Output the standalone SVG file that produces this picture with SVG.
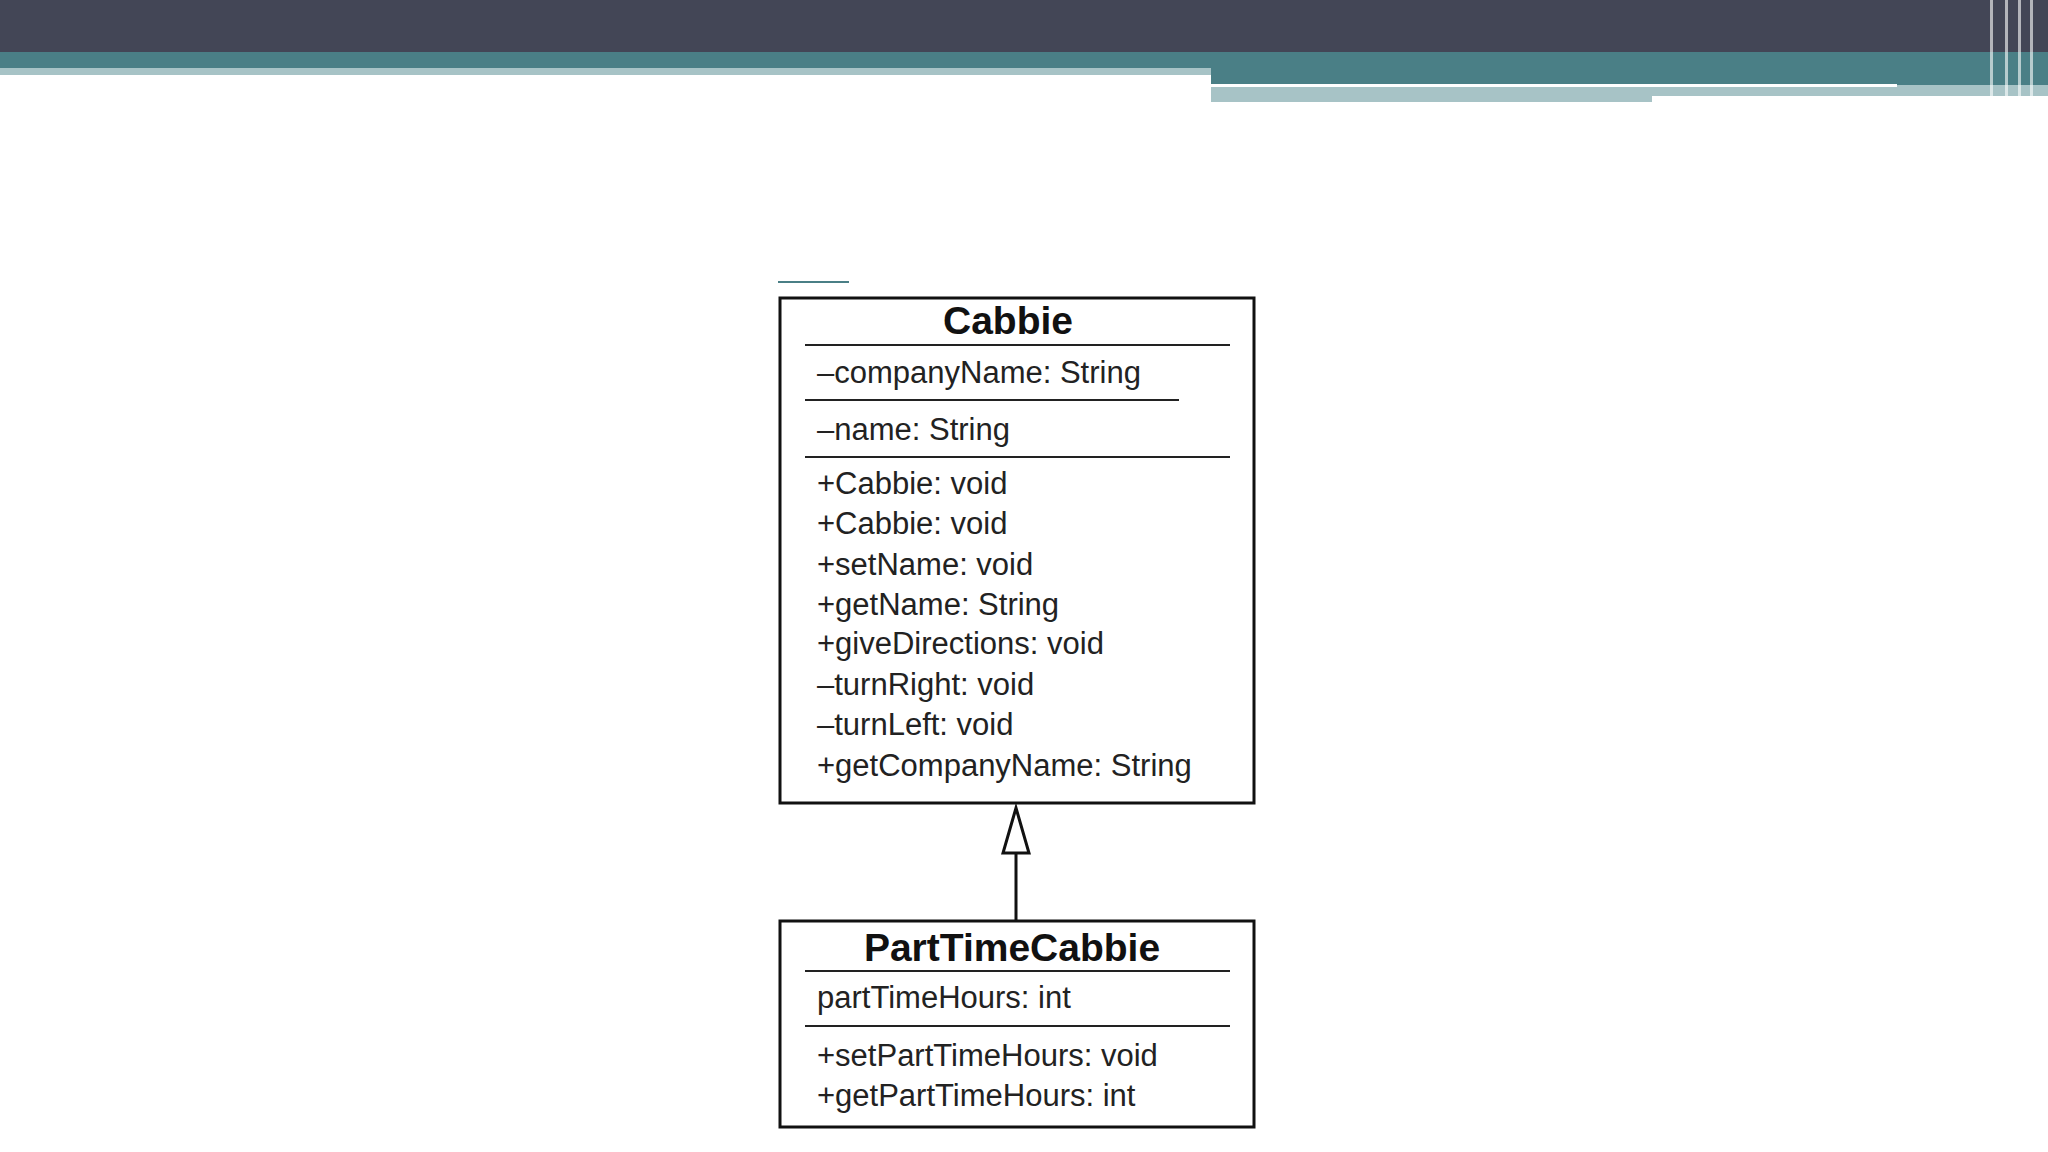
<svg xmlns="http://www.w3.org/2000/svg" width="2048" height="1152" viewBox="0 0 2048 1152">
<style>
.box{fill:#fff;stroke:#111;stroke-width:3}
.sep{stroke:#222;stroke-width:2}
.t{font-family:"Liberation Sans",Arial,sans-serif;font-size:31px;fill:#222}
.h{font-family:"Liberation Sans",Arial,sans-serif;font-size:39px;font-weight:bold;fill:#111;text-anchor:middle}
</style>
<rect width="2048" height="1152" fill="#fff"/>
<g id="banner">
<rect x="0" y="0" width="2048" height="52" fill="#434656"/>
<rect x="0" y="52" width="2048" height="16" fill="#4a7f86"/>
<rect x="0" y="68" width="1211" height="7" fill="#a7c3c6"/>
<rect x="1211" y="68" width="837" height="17" fill="#4a7f86"/>
<rect x="1211" y="85" width="837" height="17" fill="#a7c3c6"/>
<rect x="1211" y="84" width="686" height="3" fill="#fff"/>
<rect x="1652" y="96" width="396" height="6" fill="#fff"/>
<g fill="#fff" opacity="0.6"><rect x="1990" y="0" width="3" height="102"/><rect x="2005" y="0" width="3" height="102"/><rect x="2018" y="0" width="3" height="102"/><rect x="2030" y="0" width="3" height="102"/></g>
</g>
<line x1="778" y1="282" x2="849" y2="282" stroke="#4a7f86" stroke-width="2"/>
<g id="connectors">
<line x1="1016" y1="853" x2="1016" y2="921" stroke="#111" stroke-width="3"/>
<polygon points="1016,808 1003,853 1029,853" fill="#fff" stroke="#111" stroke-width="3"/>
</g>
<g id="cabbie">
<rect class="box" x="780" y="298" width="474" height="505"/>
<text class="h" x="1008" y="334">Cabbie</text>
<line class="sep" x1="805" y1="345" x2="1230" y2="345"/>
<text class="t" x="817" y="383">–companyName: String</text>
<line class="sep" x1="805" y1="400" x2="1179" y2="400"/>
<text class="t" x="817" y="440">–name: String</text>
<line class="sep" x1="805" y1="457" x2="1230" y2="457"/>
<text class="t" x="817" y="494">+Cabbie: void</text>
<text class="t" x="817" y="534">+Cabbie: void</text>
<text class="t" x="817" y="575">+setName: void</text>
<text class="t" x="817" y="615">+getName: String</text>
<text class="t" x="817" y="654">+giveDirections: void</text>
<text class="t" x="817" y="695">–turnRight: void</text>
<text class="t" x="817" y="735">–turnLeft: void</text>
<text class="t" x="817" y="776">+getCompanyName: String</text>
</g>
<g id="parttimecabbie">
<rect class="box" x="780" y="921" width="474" height="206"/>
<text class="h" x="1012" y="961">PartTimeCabbie</text>
<line class="sep" x1="805" y1="971" x2="1230" y2="971"/>
<text class="t" x="817" y="1008">partTimeHours: int</text>
<line class="sep" x1="805" y1="1026" x2="1230" y2="1026"/>
<text class="t" x="817" y="1066">+setPartTimeHours: void</text>
<text class="t" x="817" y="1106">+getPartTimeHours: int</text>
</g>
</svg>
